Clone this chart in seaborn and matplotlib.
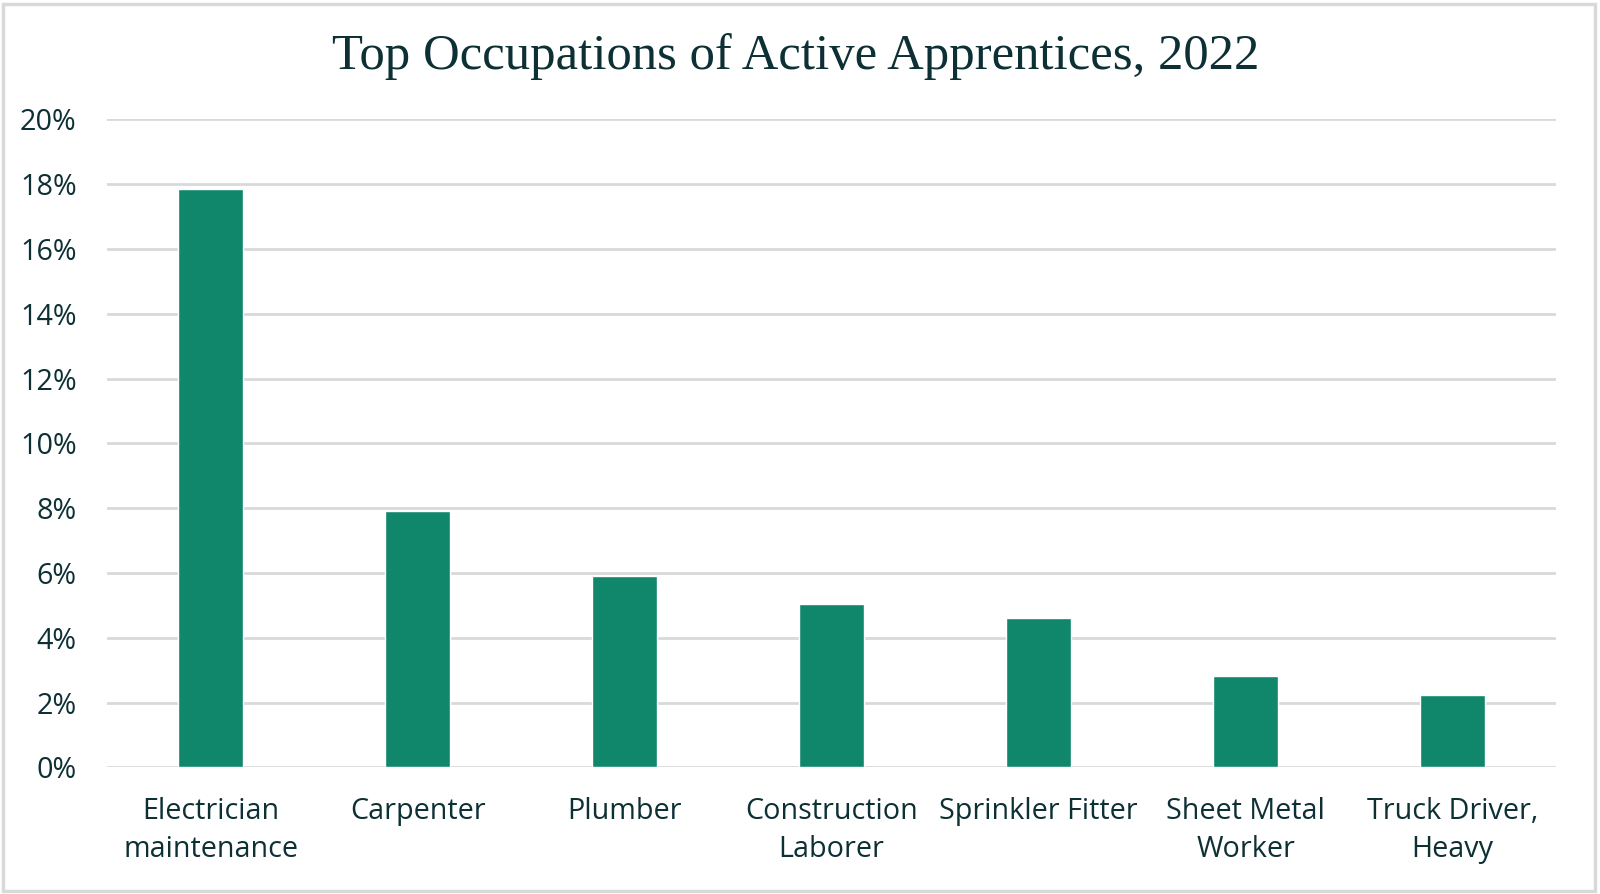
import matplotlib
matplotlib.use("Agg")
import matplotlib.pyplot as plt
import seaborn as sns
import pandas as pd
from matplotlib.ticker import FuncFormatter
from matplotlib.patches import Rectangle

# data
occupations = ["Electrician\nmaintenance", "Carpenter", "Plumber", "Construction\nLaborer",
               "Sprinkler Fitter", "Sheet Metal\nWorker", "Truck Driver,\nHeavy"]
shares = [17.85, 7.92, 5.9, 5.05, 4.6, 2.83, 2.24]

df = pd.DataFrame({"occupation": occupations, "share": shares})

text_col = "#0d3035"
bar_col = "#10876a"
grid_col = "#d9d9d9"

sns.set_theme(style="white")
plt.rcParams["font.family"] = ["Open Sans", "DejaVu Sans"]

fig = plt.figure(figsize=(16, 8.94), dpi=100)
ax = fig.add_axes([0.067, 0.1416, 0.9056, 0.7248])

sns.barplot(data=df, x="occupation", y="share", color=bar_col, saturation=1,
            width=0.315, ax=ax, zorder=3)

ax.set_ylim(0, 20)
ax.set_xlim(-0.5, len(occupations) - 0.5)
ax.set_yticks(range(0, 21, 2))
ax.yaxis.set_major_formatter(FuncFormatter(lambda v, p: f"{int(v)}%"))
ax.grid(axis="y", color=grid_col, linewidth=2, zorder=0)
ax.set_axisbelow(True)
for s in ax.spines.values():
    s.set_visible(False)
ax.set_xlabel("")
ax.set_ylabel("")
ax.tick_params(axis="both", length=0, labelsize=20.7, colors=text_col)
ax.tick_params(axis="x", pad=21)
ax.tick_params(axis="y", pad=22)
for lbl in ax.get_xticklabels():
    lbl.set_linespacing(1.45)
for lbl in ax.get_yticklabels():
    lbl.set_horizontalalignment("right")

fig.text(0.4975, 0.937, "Top Occupations of Active Apprentices, 2022",
         ha="center", va="center", fontsize=36.5, color=text_col,
         family=["Liberation Serif", "DejaVu Serif"])

# outer border
fig.patches.append(Rectangle((0.002, 0.003), 0.995, 0.993, transform=fig.transFigure,
                             fill=False, edgecolor="#d9d9d9", linewidth=2.5))

fig.savefig("out.png", dpi=100)
